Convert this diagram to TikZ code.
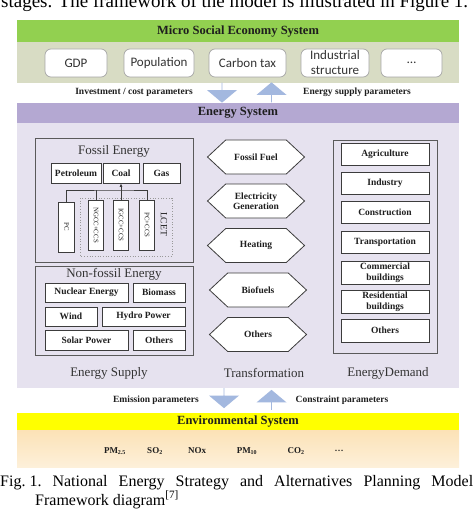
\documentclass[tikz,border=0pt]{standalone}
\usepackage{fontspec}
\setmainfont{Liberation Serif}
\newfontfamily\carl{Carlito}
\usetikzlibrary{shapes.symbols,shapes.arrows,arrows.meta}
\definecolor{greenbar}{HTML}{92D050}
\definecolor{oliveband}{HTML}{D8DCC4}
\definecolor{purplebar}{HTML}{B4A8D2}
\definecolor{lavender}{HTML}{E6E2EF}
\definecolor{arrowblue}{HTML}{A3B8DF}
\definecolor{yellowbar}{HTML}{FFFF00}
\definecolor{peachtop}{HTML}{FCE2B6}
\definecolor{peachbot}{HTML}{FDF0DA}
\definecolor{boxline}{HTML}{3C3C3C}
\definecolor{outline}{HTML}{5A5A5A}
\definecolor{inktext}{HTML}{1E1E1E}
\begin{document}
\begin{tikzpicture}[x=1pt,y=-1pt,
  bx/.style={draw=boxline, line width=0.8pt, fill=white, text=inktext,
    font=\fontsize{9.5}{10.5}\selectfont\bfseries, align=center, inner sep=0pt},
  rbx/.style={draw=gray!70, line width=0.7pt, fill=white, rounded corners=6pt,
    text=black!80, font=\carl\fontsize{13}{15}\selectfont, align=center, inner sep=0pt,
    minimum height=28},
  vbx/.style={draw=boxline, line width=0.8pt, fill=white, inner sep=0pt,
    minimum width=15.5, minimum height=50},
  vtxt/.style={rotate=-90, font=\fontsize{6.8}{7}\selectfont, text=inktext, inner sep=0pt},
  hex/.style={signal, signal to=west and east, signal pointer angle=86,
    draw=boxline, line width=0.8pt, fill=white, minimum width=97, minimum height=34,
    inner sep=0pt, align=center, text=inktext, font=\fontsize{9.5}{10.5}\selectfont\bfseries},
  grp/.style={draw=outline, line width=0.9pt},
  barlabel/.style={font=\fontsize{12.5}{14}\selectfont\bfseries, text=inktext, inner sep=0pt},
  plabel/.style={font=\fontsize{9.5}{11}\selectfont\bfseries, text=inktext, inner sep=0pt},
  seclabel/.style={font=\fontsize{13}{15}\selectfont, text=black!80, inner sep=0pt},
  downarr/.style={single arrow, fill=arrowblue, draw=none, shape border rotate=270,
    minimum width=30, minimum height=20, single arrow head extend=7.5,
    single arrow tip angle=100, inner sep=0pt},
  uparr/.style={downarr, shape border rotate=90},
  poll/.style={font=\fontsize{9}{10}\selectfont\bfseries, text=inktext, inner sep=0pt}
]
\useasboundingbox (0,0) rectangle (474,516);
\clip (0,0) rectangle (474,516);
\fill[white] (0,0) rectangle (474,516);

% running text above (cut at the top edge, as in the page excerpt)
\node[anchor=base west, inner sep=0pt, font=\fontsize{19}{21}\selectfont] (runtext) at (1,7.5)
  {stages. The framework of the model is illustrated in Figure 1.};

% ---------- Micro social economy system ----------
\fill[greenbar] (17,20) rectangle (459,42);
\fill[oliveband] (17,42) rectangle (459,83);
\node[barlabel] (micro) at (238,31.5) {Micro Social Economy System};
\node[rbx, minimum width=62] (gdp) at (76,63) {GDP};
\node[rbx, minimum width=70] (pop) at (159,63) {Population};
\node[rbx, minimum width=77] (ctax) at (247.5,63) {Carbon tax};
\node[rbx, minimum width=68] (indst) at (335,63) {Industrial\\structure};
\node[rbx, minimum width=61] (more) at (411.5,63) {\dots};

% arrows between micro and energy
\node[downarr] (a1) at (222,92.5) {};
\node[uparr] (a2) at (271.5,92.5) {};
\node[plabel] (invest) at (134,92) {Investment / cost parameters};
\node[plabel] (supplyp) at (357,92) {Energy supply parameters};

% ---------- Energy system ----------
\fill[purplebar] (17,103) rectangle (459,123);
\fill[lavender] (17,123) rectangle (459,388);
\node[barlabel] (esys) at (238,113) {Energy System};

% Fossil energy group
\draw[grp] (35,138) rectangle (193,262);
\node[seclabel] (fossilt) at (114,151) {Fossil Energy};
\node[bx, minimum width=50, minimum height=20] (petro) at (76,173) {Petroleum};
\node[bx, minimum width=36, minimum height=20] (coal) at (121,173) {Coal};
\node[bx, minimum width=37, minimum height=20] (gas) at (161.5,173) {Gas};
\draw[gray!80, line width=0.7pt, dotted] (80,198) rectangle (172,256);
\node[vbx, minimum height=50] (pc) at (66.5,227) {};
\node[vtxt] at (pc) {PC};
\node[vbx] (ngcc) at (96,225) {};
\node[vtxt] at (ngcc) {NGCC+CCS};
\node[vbx] (igcc) at (121,225) {};
\node[vtxt] at (igcc) {IGCC+CCS};
\node[vbx] (pcccs) at (147,225) {};
\node[vtxt] at (pcccs) {PC+CCS};
\node[vtxt, font=\fontsize{9.5}{10}\selectfont] (lcet) at (164,224) {LCET};
\coordinate (jn) at (121,190);
\draw[boxline, line width=0.8pt] (pc.north) |- (jn) -| (pcccs.north);
\draw[boxline, line width=0.8pt] (ngcc.north) -- (ngcc.north |- jn);
\draw[boxline, line width=0.8pt] (igcc.north) -- (jn);
\draw[boxline, line width=0.8pt, -{Latex[length=3.5pt,width=3pt]}] (jn) -- (coal.south);

% Non-fossil energy group
\draw[grp] (35,266) rectangle (193,355);
\node[seclabel] (nonfossilt) at (114,274) {Non-fossil Energy};
\node[bx, minimum width=83, minimum height=19] (nuc) at (86.5,292.5) {Nuclear Energy};
\node[bx, minimum width=52, minimum height=19] (bio) at (159,292.5) {Biomass};
\node[bx, minimum width=52, minimum height=19] (wind) at (71,316.5) {Wind};
\node[bx, minimum width=83, minimum height=19] (hydro) at (143.5,316.5) {Hydro Power};
\node[bx, minimum width=83, minimum height=20] (solar) at (86.5,340) {Solar Power};
\node[bx, minimum width=52, minimum height=20] (oth1) at (159,340) {Others};
\node[seclabel] (supply) at (109,373) {Energy Supply};

% Transformation hexagons
\node[hex] (ff) at (256,157) {Fossil Fuel};
\node[hex] (eg) at (256,201) {Electricity\\Generation};
\node[hex] (heat) at (256,245.5) {Heating};
\node[hex] (biof) at (258,290) {Biofuels};
\node[hex] (oth2) at (258,334.5) {Others};
\node[seclabel] (transf) at (264,373) {Transformation};

% Energy demand
\draw[grp] (333,140) rectangle (437,353);
\node[bx, minimum width=88, minimum height=22] (agri) at (385,154) {Agriculture};
\node[bx, minimum width=88, minimum height=22] (ind) at (385,183) {Industry};
\node[bx, minimum width=88, minimum height=22] (cons) at (385,212) {Construction};
\node[bx, minimum width=88, minimum height=22] (trans) at (385,242) {Transportation};
\node[bx, minimum width=88, minimum height=23, font=\fontsize{9.5}{11}\selectfont\bfseries] (comm) at (385,272.5) {Commercial\\buildings};
\node[bx, minimum width=88, minimum height=23, font=\fontsize{9.5}{11}\selectfont\bfseries] (resi) at (385,301.5) {Residential\\buildings};
\node[bx, minimum width=88, minimum height=23] (oth3) at (385,330.5) {Others};
\node[seclabel] (demand) at (388,373) {EnergyDemand};

% arrows between energy and environment
\node[downarr] (a3) at (224,398) {};
\node[uparr] (a4) at (271.5,400) {};
\node[plabel] (emis) at (156,400) {Emission parameters};
\node[plabel] (constr) at (342,400) {Constraint parameters};

% ---------- Environmental system ----------
\fill[yellowbar] (17,413) rectangle (459,430);
\shade[top color=peachtop, bottom color=peachbot] (17,430) rectangle (459,467);
\node[barlabel] (env) at (238,421.5) {Environmental System};
\node[poll] (pm25) at (115,451) {PM\textsubscript{2.5}};
\node[poll] (so2) at (155,451) {SO\textsubscript{2}};
\node[poll] (nox) at (197,451) {NOx};
\node[poll] (pm10) at (247,451) {PM\textsubscript{10}};
\node[poll] (co2) at (296,451) {CO\textsubscript{2}};
\node[poll] (pdots) at (339,451) {\dots};

% caption
\node[anchor=base west, inner sep=0pt, font=\fontsize{16}{18}\selectfont] (cap1) at (0,486)
  {\hbox to 473pt{Fig.~1.\hfill National\hfill Energy\hfill Strategy\hfill and\hfill Alternatives\hfill Planning\hfill Model}};
\node[anchor=base west, inner sep=0pt, font=\fontsize{16}{18}\selectfont] (cap2) at (35,505)
  {Framework diagram\textsuperscript{[7]}};
\end{tikzpicture}
\end{document}
